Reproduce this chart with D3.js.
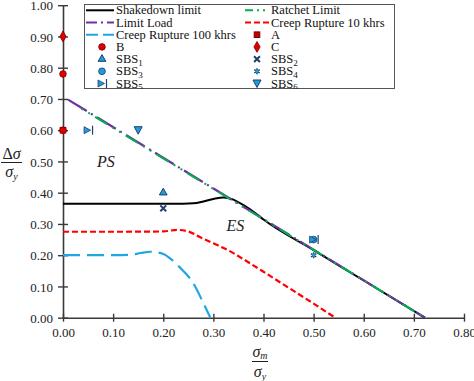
<!DOCTYPE html>
<html><head><meta charset="utf-8">
<script src="https://cdn.jsdelivr.net/npm/d3@7"></script>
<style>body{margin:0;background:#fff}svg text{font-family:"Liberation Serif","Times New Roman",serif !important}</style>
</head><body><svg id="c" width="474" height="381"></svg>
<script>
// ---- data ----
const xTicks = [0,0.1,0.2,0.3,0.4,0.5,0.6,0.7,0.8];
const yTicks = [0,0.1,0.2,0.3,0.4,0.5,0.6,0.7,0.8,0.9,1.0];
const shakedownX = [0,0.05,0.10,0.15,0.20,0.24,0.26,0.28,0.30,0.32,0.34,0.36,0.38,0.40,0.50,0.60,0.722];
const shakedownY = [0.365,0.365,0.365,0.365,0.365,0.365,0.366,0.372,0.380,0.385,0.378,0.360,0.339,0.314,0.216,0.119,0];
const limitX = [0.01,0.722];
const limitY = [0.698,0];
const ratchetX = [0.03,0.722];
const ratchetY = [0.676,0];
const creep10X = [0,0.10,0.20,0.227,0.25,0.273,0.30,0.333,0.353,0.40,0.45,0.50,0.543];
const creep10Y = [0.275,0.275,0.276,0.281,0.276,0.258,0.238,0.213,0.194,0.147,0.096,0.045,0];
const creep100X = [0,0.05,0.10,0.134,0.155,0.174,0.20,0.215,0.233,0.26,0.28,0.294];
const creep100Y = [0.2,0.2,0.2,0.201,0.207,0.211,0.204,0.188,0.161,0.110,0.047,0];
const pointsA = [[0,0.60]];
const pointsB = [[0,0.60],[0,0.78]];
const pointsC = [[0,0.90]];
const pointsSBS1 = [[0.20,0.40]];
const pointsSBS2 = [[0.20,0.35]];
const pointsSBS3 = [[0.50,0.25]];
const pointsSBS4 = [[0.50,0.20]];
const pointsSBS5 = [[0.05,0.60],[0.50,0.25]];
const pointsSBS6 = [[0.15,0.60]];

// ---- setup ----
const svg = d3.select("#c");
const x = d3.scaleLinear().domain([0,0.8]).range([63,464]);
const y = d3.scaleLinear().domain([0,1]).range([317.7,5.2]);
const axisCol = "#3a3a3a";

// axes
const gx = svg.append("g").attr("transform","translate(0,317.7)")
  .call(d3.axisBottom(x).tickValues(xTicks).tickFormat(d3.format(".2f")).tickSizeOuter(0));
gx.attr("font-family",null);
gx.select(".domain").attr("stroke",axisCol).attr("stroke-width",1.6);
gx.selectAll(".tick line").attr("y1",-4).attr("y2",4).attr("stroke",axisCol).attr("stroke-width",1.4);
gx.selectAll(".tick text").attr("y",19.5).attr("dy",0).attr("font-size",13).attr("fill","#222");
const gy = svg.append("g").attr("transform","translate(63,0)")
  .call(d3.axisLeft(y).tickValues(yTicks).tickFormat(d3.format(".2f")).tickSizeOuter(0));
gy.attr("font-family",null);
gy.select(".domain").attr("stroke",axisCol).attr("stroke-width",1.6);
gy.selectAll(".tick line").attr("x1",-5).attr("x2",5).attr("stroke",axisCol).attr("stroke-width",1.4);
gy.selectAll(".tick text").attr("x",-10).attr("dy","0.35em").attr("font-size",13).attr("fill","#222");

// curves
const mk = (xs,ys)=>xs.map((d,i)=>[d,ys[i]]);
const line = d3.line().x(d=>x(d[0])).y(d=>y(d[1])).curve(d3.curveMonotoneX);
svg.append("path").attr("d",line(mk(shakedownX,shakedownY))).attr("fill","none").attr("stroke","#000").attr("stroke-width",2);
svg.append("path").attr("d",line(mk(limitX,limitY))).attr("fill","none").attr("stroke","#7030A0").attr("stroke-width",2.2).attr("stroke-dasharray","22,5,2,5");
svg.append("path").attr("d",line(mk(ratchetX,ratchetY))).attr("fill","none").attr("stroke","#00B050").attr("stroke-width",2).attr("stroke-dasharray","14,6,2,6,2,6").attr("stroke-dashoffset",-20);
svg.append("path").attr("d",line(mk(creep10X,creep10Y))).attr("fill","none").attr("stroke","#FF0000").attr("stroke-width",2.2).attr("stroke-dasharray","6,3");
svg.append("path").attr("d",line(mk(creep100X,creep100Y))).attr("fill","none").attr("stroke","#1FA8E0").attr("stroke-width",2.2).attr("stroke-dasharray","17,7");

// marker shapes
const blue="#1F9BD7", navy="#1F3F6E";
function drawMarker(g, type, cx, cy){
  const s = g.append("g").attr("transform",`translate(${cx},${cy})`);
  if(type==="A") s.append("rect").attr("x",-2.8).attr("y",-2.8).attr("width",5.6).attr("height",5.6).attr("fill","#C00000").attr("stroke","#7a0000");
  if(type==="B") s.append("circle").attr("r",3.3).attr("fill","#E00000").attr("stroke","#800000").attr("stroke-width",0.8);
  if(type==="C") s.append("path").attr("d",d3.symbol(d3.symbolDiamond,34)()).attr("fill","#E00000").attr("stroke","#800000").attr("stroke-width",0.8);
  if(type==="SBS1") s.append("path").attr("d",d3.symbol(d3.symbolTriangle,26)()).attr("fill",blue).attr("stroke",navy).attr("stroke-width",1);
  if(type==="SBS2") s.append("path").attr("d",d3.symbol(d3.symbolX,24)()).attr("fill","none").attr("stroke",navy).attr("stroke-width",2);
  if(type==="SBS3") s.append("path").attr("d",d3.symbol(d3.symbolCircle,36)()).attr("fill",blue).attr("stroke",navy).attr("stroke-width",0.8);
  if(type==="SBS4") { s.append("path").attr("d",d3.symbol(d3.symbolAsterisk,26)()).attr("fill","none").attr("stroke",navy).attr("stroke-width",1.5);
                      s.append("circle").attr("r",1.8).attr("fill",blue); }
  if(type==="SBS5") { s.append("path").attr("d","M-4,-3.5L2.5,0L-4,3.5Z").attr("fill",blue).attr("stroke",navy).attr("stroke-width",0.8);
                      s.append("line").attr("x1",4.5).attr("x2",4.5).attr("y1",-4.5).attr("y2",4.5).attr("stroke",navy).attr("stroke-width",1.2); }
  if(type==="SBS6") s.append("path").attr("d","M-4,-3.5L4,-3.5L0,4Z").attr("fill",blue).attr("stroke",navy).attr("stroke-width",1);
}
const pts = svg.append("g");
[["A",pointsA],["B",pointsB],["C",pointsC],["SBS1",pointsSBS1],["SBS2",pointsSBS2],["SBS3",pointsSBS3],
 ["SBS4",pointsSBS4],["SBS5",pointsSBS5],["SBS6",pointsSBS6]].forEach(([t,arr])=>arr.forEach(p=>drawMarker(pts,t,x(p[0]),y(p[1]))));

// region labels
svg.append("text").attr("x",97).attr("y",166.5).attr("font-size",16).attr("font-style","italic").attr("fill","#222").text("PS");
svg.append("text").attr("x",226.5).attr("y",231).attr("font-size",16).attr("font-style","italic").attr("fill","#222").text("ES");

// axis labels (fractions)
function frac(cx, yTop, yBar, yBot, sub1, x0, x1){
  const t1 = svg.append("text").attr("x",cx).attr("y",yTop).attr("text-anchor","middle").attr("font-size",16).attr("fill","#222");
  if(sub1===null){ t1.append("tspan").text("Δ"); t1.append("tspan").attr("font-style","italic").text("σ"); }
  else { t1.append("tspan").attr("font-style","italic").text("σ"); t1.append("tspan").attr("font-style","italic").attr("font-size",10).attr("dy",2).text(sub1); }
  svg.append("line").attr("x1",x0).attr("x2",x1).attr("y1",yBar).attr("y2",yBar).attr("stroke","#222").attr("stroke-width",1);
  const t2 = svg.append("text").attr("x",cx).attr("y",yBot).attr("text-anchor","middle").attr("font-size",16).attr("fill","#222");
  t2.append("tspan").attr("font-style","italic").text("σ"); t2.append("tspan").attr("font-style","italic").attr("font-size",10).attr("dy",3).text("y");
}
frac(11.5,158.5,162.5,176.5,null,1,22);
frac(260,356.5,361.5,377,"m",252,268);

// legend
const legendLeft = ["Shakedown limit","Limit Load","Creep Rupture 100 khrs","B","SBS|1","SBS|3","SBS|5"];
const legendRight = ["Ratchet Limit","Creep Rupture 10 khrs","A","C","SBS|2","SBS|4","SBS|6"];
const legendLeftKey = ["shake","limit","c100","B","SBS1","SBS3","SBS5"];
const legendRightKey = ["ratchet","c10","A","C","SBS2","SBS4","SBS6"];
const lineStyles = {shake:["#000",null],limit:["#7030A0","11,4,2,4"],c100:["#1FA8E0","12,5"],ratchet:["#00B050","8,4,2,4,2,4"],c10:["#FF0000","6,3"]};
svg.append("defs").append("clipPath").attr("id","lc").append("rect").attr("x",84).attr("y",4).attr("width",311).attr("height",85);
const lg = svg.append("g").attr("clip-path","url(#lc)");
lg.append("rect").attr("x",84.5).attr("y",4.5).attr("width",310).attr("height",84).attr("fill","#fff").attr("stroke","#555").attr("stroke-width",1);
function legendCol(labels, keys, lx0, lx1, mx, tx){
  labels.forEach((lab,i)=>{
    const cy = 10.3 + 12.2*i;
    const k = keys[i];
    if(lineStyles[k]){
      lg.append("line").attr("x1",lx0).attr("x2",lx1).attr("y1",cy).attr("y2",cy).attr("stroke",lineStyles[k][0]).attr("stroke-width",2)
        .attr("stroke-dasharray",lineStyles[k][1]);
    } else drawMarker(lg,k,mx,cy);
    const t = lg.append("text").attr("x",tx).attr("y",cy+4).attr("font-size",12.5).attr("fill","#111");
    const parts = lab.split("|");
    t.append("tspan").text(parts[0]);
    if(parts[1]) t.append("tspan").attr("font-size",9).attr("dy",2.5).text(parts[1]);
  });
}
legendCol(legendLeft, legendLeftKey, 86, 114, 102, 116);
legendCol(legendRight, legendRightKey, 245, 269, 257, 271);
</script></body></html>
